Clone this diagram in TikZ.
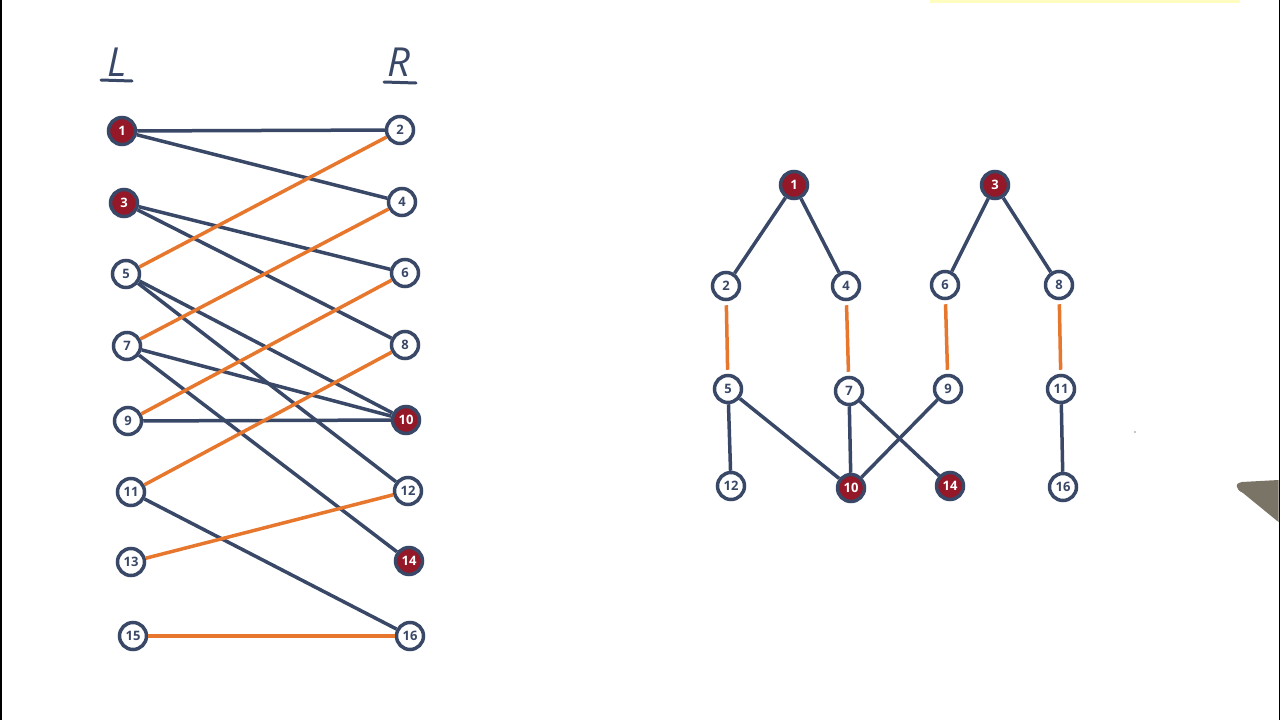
\documentclass[tikz,border=0pt]{standalone}
\usepackage{fontspec}
\setmainfont{Open Sans}
\definecolor{navy}{HTML}{3A4868}
\definecolor{orng}{HTML}{E8772E}
\definecolor{dred}{HTML}{941828}
\definecolor{pen}{HTML}{7A7466}
\begin{document}
\begin{tikzpicture}[x=1pt,y=-1pt,
  vtx/.style={circle, draw=navy, line width=3.5pt, fill=white, minimum size=27pt, inner sep=0pt,
    font=\fontsize{13}{13}\selectfont\bfseries, text=navy},
  rvtx/.style={vtx, fill=dred, text=white},
  be/.style={navy, line width=3.5pt},
  oe/.style={orng, line width=3.5pt},
  ot/.style={orng, line width=3.5pt, shorten <=4pt, shorten >=4pt},
  side/.style={font=\fontsize{40}{40}\selectfont\itshape, text=navy}]
\useasboundingbox (0,0) rectangle (1280,720);
\fill[white] (0,0) rectangle (1280,720);
% frame edges
\fill[black] (0,0) rectangle (2,720);
\fill[black] (1278.5,0) rectangle (1280,720);
\fill[yellow!25] (930,0) rectangle (1240,3);
% headers
\node[side] (hL) at (117,62) {L};
\node[side] (hR) at (399,62) {R};
\draw[navy, line width=3pt, line cap=round] (101,80) -- (132,81);
\draw[navy, line width=3pt, line cap=round] (384,82) -- (416,83);
% left column
\node[rvtx] (l1) at (122,131) {1};
\node[rvtx] (l3) at (124,203) {3};
\node[vtx] (l5) at (126,274) {5};
\node[vtx] (l7) at (127,346) {7};
\node[vtx] (l9) at (128,421) {9};
\node[vtx] (l11) at (131,492) {11};
\node[vtx] (l13) at (131,562) {13};
\node[vtx] (l15) at (133,636) {15};
% right column
\node[vtx] (r2) at (400,130) {2};
\node[vtx] (r4) at (402,202) {4};
\node[vtx] (r6) at (405,273) {6};
\node[vtx] (r8) at (405,345) {8};
\node[rvtx] (r10) at (406,420) {10};
\node[vtx] (r12) at (408,491) {12};
\node[rvtx] (r14) at (409,561) {14};
\node[vtx] (r16) at (410,636) {16};
% bipartite edges
\draw[be] (l1) -- (r2);
\draw[be] (l1) -- (r4);
\draw[be] (l3) -- (r6);
\draw[be] (l3) -- (r8);
\draw[be] (l5) -- (r10);
\draw[be] (l5) -- (r12);
\draw[be] (l7) -- (r10);
\draw[be] (l7) -- (r14);
\draw[be] (l9) -- (r10);
\draw[be] (l11) -- (r16);
\draw[oe] (l5) -- (r2);
\draw[oe] (l7) -- (r4);
\draw[oe] (l9) -- (r6);
\draw[oe] (l11) -- (r8);
\draw[oe] (l13) -- (r12);
\draw[oe] (l15) -- (r16);
% tree
\node[rvtx] (t1) at (794,185) {1};
\node[rvtx] (t3) at (995,185) {3};
\node[vtx] (t2) at (726,286) {2};
\node[vtx] (t4) at (846,286) {4};
\node[vtx] (t6) at (945,285) {6};
\node[vtx] (t8) at (1059,285) {8};
\node[vtx] (t5) at (728,389) {5};
\node[vtx] (t7) at (849,391) {7};
\node[vtx] (t9) at (948,389) {9};
\node[vtx] (t11) at (1061,389) {11};
\node[vtx] (t12) at (731,486) {12};
\node[rvtx] (t10) at (851,488) {10};
\node[rvtx] (t14) at (950,486) {14};
\node[vtx] (t16) at (1063,487) {16};
\draw[be] (t1) -- (t2);
\draw[be] (t1) -- (t4);
\draw[be] (t3) -- (t6);
\draw[be] (t3) -- (t8);
\draw[ot] (t2) -- (t5);
\draw[ot] (t4) -- (t7);
\draw[ot] (t6) -- (t9);
\draw[ot] (t8) -- (t11);
\draw[be] (t5) -- (t12);
\draw[be] (t5) -- (t10);
\draw[be] (t7) -- (t10);
\draw[be] (t7) -- (t14);
\draw[be] (t9) -- (t10);
\draw[be] (t11) -- (t16);
% stray dot and pen tip
\fill[gray!60] (1135,432) circle (1.2);
\fill[pen] (1237,487) .. controls (1236,484) and (1238,483) .. (1242,482) -- (1278.5,480) -- (1278.5,522) -- (1243,493) .. controls (1239,491) and (1237,489) .. (1237,487) -- cycle;
\end{tikzpicture}
\end{document}
